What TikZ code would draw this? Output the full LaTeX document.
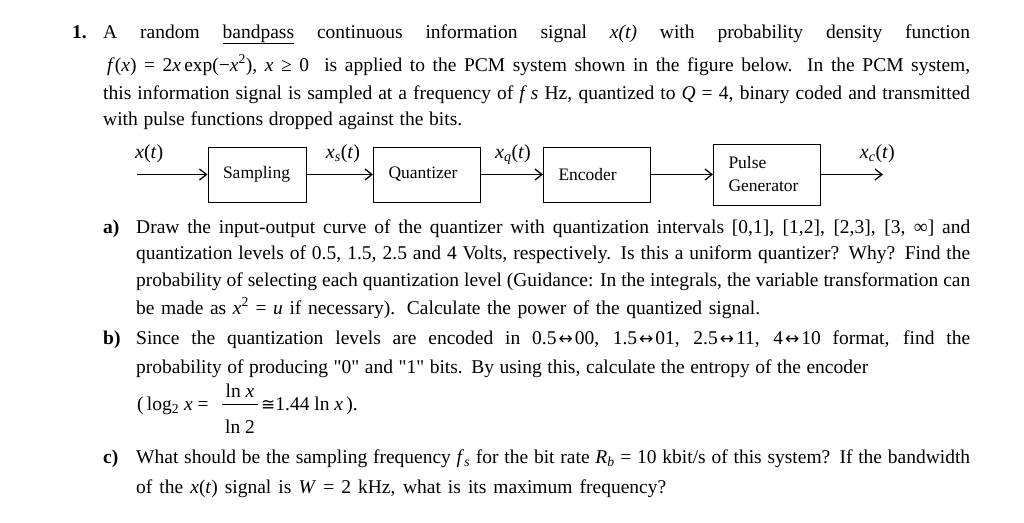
\documentclass[tikz,border=0pt]{standalone}
\usepackage{fontspec}
\setmainfont{Liberation Serif}
\newfontfamily\symfont{DejaVu Sans}
\usepackage{graphicx}
\usetikzlibrary{arrows.meta}

\newcommand\bodyfont{\fontsize{19.5}{24}\selectfont}
\newcommand\boxfont{\fontsize{17.5}{23}\selectfont}
\newcommand\mv[1]{\textit{#1}}
\newcommand\lrar{\kern2pt{\symfont\fontsize{17}{20}\selectfont ↔}\kern2pt}
\newsavebox\linebox
\newcommand\fitline[2]{%
  \sbox\linebox{#2}%
  \ifdim\wd\linebox>#1pt\relax
    \resizebox{#1pt}{\height}{\usebox\linebox}%
  \else
    \makebox[#1pt][s]{#2}%
  \fi}

\begin{document}
\begin{tikzpicture}[x=1pt, y=-1pt, node distance=170pt,
    >={Straight Barb[length=7pt, width=11pt]},
    txt/.style={anchor=base west, inner sep=0pt, font=\bodyfont},
    lab/.style={txt, font=\bodyfont\bfseries},
    block/.style={draw, line width=1pt, inner xsep=15pt, text width=77pt,
        align=left, minimum height=55pt, font=\boxfont},
    sig/.style={anchor=base, inner sep=0pt, font=\fontsize{20}{24}\selectfont}]
    \useasboundingbox (0,0) rectangle (1024,522);

    % question text
    \node[lab] (n1) at (72,38) {1.};
    \node[txt] (l1) at (103,38) {\fitline{867}{A random \underline{bandpass} continuous information signal \mv{x(t)} with probability density function}};
    \node[txt] (l2) at (107,71) {\fitline{863}{\mv{f}(\mv{x})~=~2\mv{x}\,exp(−\mv{x}\textsuperscript{2}),~\mv{x}~≥~0~ is applied to the PCM system shown in the figure below. In the PCM system,}};
    \node[txt] (l3) at (103,99) {\fitline{867}{this information signal is sampled at a frequency of \mv{f s} Hz, quantized to \mv{Q}~=~4, binary coded and transmitted}};
    \node[txt] (l4) at (103,125) {\fitline{359}{with pulse functions dropped against the bits.}};

    % PCM system
    \node[block, text width=68pt] (sampling) at (257,174.5) {Sampling};
    \node[block, right of=sampling] (quantizer) {Quantizer};
    \node[block, right of=quantizer] (encoder) {Encoder};
    \node[block, right of=encoder, minimum height=61pt] (pulse) {Pulse\\Generator};
    \coordinate (in) at (137,174.5);
    \coordinate (out) at (883,174.5);

    \draw[->, line width=1.3pt] (in) -- (sampling);
    \draw[->, line width=1.3pt] (sampling) -- (quantizer);
    \draw[->, line width=1.3pt] (quantizer) -- (encoder);
    \draw[->, line width=1.3pt] (encoder) -- (pulse);
    \draw[->, line width=1.3pt] (pulse) -- (out);

    \node[sig, anchor=base west] (xin) at (135,158) {\mv{x}(\mv{t})};
    \node[sig] (xs) at (343,158) {\mv{x}\textsubscript{\mv{s}}(\mv{t})};
    \node[sig] (xq) at (513,158) {\mv{x}\textsubscript{\mv{q}}(\mv{t})};
    \node[sig, anchor=base east] (xc) at (895,158) {\mv{x}\textsubscript{\mv{c}}(\mv{t})};

    % part a
    \node[lab] (na) at (103,233) {a)};
    \node[txt] (a1) at (136,233) {\fitline{834}{Draw the input-output curve of the quantizer with quantization intervals [0,1], [1,2], [2,3], [3, ∞] and}};
    \node[txt] (a2) at (136,259) {\fitline{834}{quantization levels of 0.5, 1.5, 2.5 and 4 Volts, respectively. Is this a uniform quantizer? Why? Find the}};
    \node[txt] (a3) at (136,286) {\fitline{834}{probability of selecting each quantization level (Guidance: In the integrals, the variable transformation can}};
    \node[txt] (a4) at (136,314) {\fitline{624}{be made as \mv{x}\textsuperscript{2}~=~\mv{u} if necessary). Calculate the power of the quantized signal.}};

    % part b
    \node[lab] (nb) at (103,344) {b)};
    \node[txt] (b1) at (136,344) {\fitline{834}{Since the quantization levels are encoded in 0.5\lrar00, 1.5\lrar01, 2.5\lrar11, 4\lrar10 format, find the}};
    \node[txt] (b2) at (136,373) {\fitline{732}{probability of producing \textquotedbl0\textquotedbl{} and \textquotedbl1\textquotedbl{} bits. By using this, calculate the entropy of the encoder}};
    \node[txt] (b3) at (137,410) {(\,log\textsubscript{2}~\mv{x}~=};
    \node[txt, anchor=base] (num) at (240,397) {ln~\mv{x}};
    \node[txt, anchor=base] (den) at (240,433) {ln~2};
    \coordinate (barl) at (222,404);
    \coordinate (barr) at (258,404);
    \draw[line width=1pt] (barl) -- (barr);
    \node[txt] (b4) at (261,410) {{\symfont\fontsize{17}{20}\selectfont ≅}1.44~ln~\mv{x}\,).};

    % part c
    \node[lab] (nc) at (103,463) {c)};
    \node[txt] (c1) at (136,463) {\fitline{834}{What should be the sampling frequency \mv{f}\textsubscript{\mv{s}} for the bit rate \mv{R}\textsubscript{\mv{b}}~=~10 kbit/s of this system? If the bandwidth}};
    \node[txt] (c2) at (136,493) {\fitline{530}{of the \mv{x}(\mv{t}) signal is \mv{W}~=~2 kHz, what is its maximum frequency?}};
\end{tikzpicture}
\end{document}
